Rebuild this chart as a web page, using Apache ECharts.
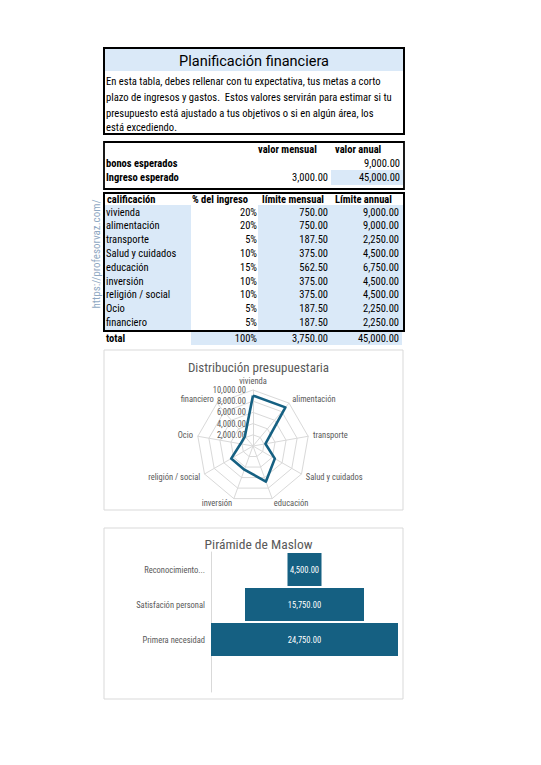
<!DOCTYPE html>
<html><head><meta charset="utf-8">
<script src="https://cdn.jsdelivr.net/npm/echarts@6/dist/echarts.min.js"></script>
<style>html,body{margin:0;padding:0;background:#fff}#c{width:541px;height:765px}</style>
</head><body><div id="c"></div>
<script>
// ---------- data ----------
const pageTitle = 'Planificación financiera';
const introLines = [
  'En esta tabla, debes rellenar con tu expectativa, tus metas a corto',
  'plazo de ingresos y gastos.  Estos valores servirán para estimar si tu',
  'presupuesto está ajustado a tus objetivos o si en algún área, los',
  'está excediendo.'
];
const incomeHeaders = ['valor mensual', 'valor anual'];
const incomeLabels = ['bonos esperados', 'Ingreso esperado'];
const incomeMonthly = [null, 3000];
const incomeAnnual = [9000, 45000];
const budgetHeaders = ['calificación', '% del ingreso', 'límite mensual', 'Límite annual'];
const categories = ['vivienda', 'alimentación', 'transporte', 'Salud y cuidados', 'educación', 'inversión', 'religión / social', 'Ocio', 'financiero'];
const percents = [20, 20, 5, 10, 15, 10, 10, 5, 5];
const monthlyLimits = [750, 750, 187.5, 375, 562.5, 375, 375, 187.5, 187.5];
const annualLimits = [9000, 9000, 2250, 4500, 6750, 4500, 4500, 2250, 2250];
const totalLabel = 'total';
const totalPercent = 100;
const totalMonthly = 3750;
const totalAnnual = 45000;
const watermark = 'https://profesorvaz.com/';
const radarTitle = 'Distribución presupuestaria';
const radarMax = 10000;
const maslowTitle = 'Pirámide de Maslow';
const maslowCategories = ['', 'Primera necesidad', 'Satisfación personal', 'Reconocimiento...'];
const maslowValues = [null, 24750, 15750, 4500];

// ---------- rendering ----------
const FONT = "'Liberation Sans Narrow','Arial Narrow','Roboto Condensed',sans-serif";
const BLUE_FILL = '#dae9f8';
const ACCENT = '#156082';
const GREY_TXT = '#595959';
const fmt2 = v => v == null ? '' : v.toLocaleString('en-US', {minimumFractionDigits: 2, maximumFractionDigits: 2});

const g = [];
function rect(x, y, w, h, style, z) {
  g.push({type: 'rect', silent: true, z: z || 0, shape: {x, y, width: w, height: h}, style});
}
function txt(s, x, y, o) {
  o = o || {};
  g.push({type: 'text', silent: true, z: 5, x, y, rotation: o.rotation || 0,
    style: {text: s, fill: o.color || '#000', fontSize: o.size || 10.5, fontFamily: o.font || FONT,
      fontWeight: o.bold ? 'bold' : 'normal', align: o.align || 'left', verticalAlign: 'middle'}});
}
const X0 = 104, X1 = 404;

// Title block
rect(X0, 48, X1 - X0, 23, {fill: BLUE_FILL});
rect(X0, 48, X1 - X0, 86, {fill: 'none', stroke: '#000', lineWidth: 2}, 6);
txt(pageTitle, (X0 + X1) / 2, 61, {size: 14.5, align: 'center', font: "Roboto, 'Noto Sans', sans-serif"});
const introY = [81.5, 97.3, 113, 127];
introLines.forEach((l, i) => txt(l, 106, introY[i], {size: 10.6}));

// Income table
const colB = [191, 258], colC = [258, 331], colD = [331, 404];
rect(colD[0], 170, colD[1] - colD[0] - 1, 15, {fill: BLUE_FILL});
rect(X0, 142, X1 - X0, 47, {fill: 'none', stroke: '#000', lineWidth: 1.8}, 6);
txt(incomeHeaders[0], 258, 149, {bold: true});
txt(incomeHeaders[1], 335, 149, {bold: true});
const incY = [163, 177];
incomeLabels.forEach((l, i) => {
  txt(l, 106, incY[i], {bold: true});
  txt(fmt2(incomeMonthly[i]), 328, incY[i], {align: 'right'});
  txt(fmt2(incomeAnnual[i]), 400, incY[i], {align: 'right'});
});

// Budget table
const rowY0 = 212, rowH = 13.8;
const bodyTop = 205, bodyBot = 331;
rect(X0, bodyTop, colB[0] - X0, bodyBot - bodyTop, {fill: BLUE_FILL});
rect(colC[0], bodyTop, colD[1] - colC[0], bodyBot - bodyTop, {fill: BLUE_FILL});
rect(colB[0], bodyBot, colD[1] - colB[0] - 2, 14, {fill: BLUE_FILL});
rect(X0, 193, X1 - X0, 138, {fill: 'none', stroke: '#000', lineWidth: 2}, 6);
txt(budgetHeaders[0], 107, 199, {bold: true});
txt(budgetHeaders[1], 192, 199, {bold: true});
txt(budgetHeaders[2], 262, 199, {bold: true});
txt(budgetHeaders[3], 335, 199, {bold: true});
categories.forEach((c, i) => {
  const y = rowY0 + i * rowH;
  txt(c, 106, y);
  txt(percents[i] + '%', 257, y, {align: 'right'});
  txt(fmt2(monthlyLimits[i]), 328, y, {align: 'right'});
  txt(fmt2(annualLimits[i]), 399, y, {align: 'right'});
});
txt(totalLabel, 106, 338, {bold: true});
txt(totalPercent + '%', 257, 338, {align: 'right'});
txt(fmt2(totalMonthly), 328, 338, {align: 'right'});
txt(fmt2(totalAnnual), 399, 338, {align: 'right'});
txt(watermark, 96, 254, {rotation: Math.PI / 2, align: 'center', color: '#8fa8c2', size: 11});

// chart frames
rect(X0, 350, 299, 160, {fill: '#fff', stroke: '#d9d9d9', lineWidth: 1});
rect(X0, 528, 299, 171, {fill: '#fff', stroke: '#d9d9d9', lineWidth: 1});

// radar: reference goes clockwise from top
const order = [0].concat(categories.map((_, i) => i).slice(1).reverse());
const radarLabelStyle = {show: true, color: GREY_TXT, fontSize: 8.5, fontFamily: FONT, margin: 7,
  formatter: v => v === 0 ? '' : fmt2(v)};
const indicators = order.map((k, j) => {
  const ind = {name: categories[k], min: 0, max: radarMax};
  if (j === 0) ind.axisLabel = radarLabelStyle;
  return ind;
});
const radarValues = order.map(k => annualLimits[k]);

const maxM = Math.max(...maslowValues.filter(v => v != null));
const offsets = maslowValues.map(v => v == null ? null : (maxM - v) / 2);

const chart = echarts.init(document.getElementById('c'), null, {renderer: 'svg'});
chart.setOption({
  animation: false,
  graphic: {elements: g},
  title: [
    {text: radarTitle, left: 253.5, top: 356, textAlign: 'center',
      textStyle: {color: GREY_TXT, fontSize: 13, fontWeight: 'normal', fontFamily: FONT}},
    {text: maslowTitle, left: 253.5, top: 532, textAlign: 'center',
      textStyle: {color: GREY_TXT, fontSize: 13.5, fontWeight: 'normal', fontFamily: FONT}}
  ],
  radar: {
    center: [253, 446], radius: 56, startAngle: 90, shape: 'polygon', splitNumber: 5,
    indicator: indicators,
    axisName: {color: GREY_TXT, fontSize: 8.5, fontFamily: FONT},
    nameGap: 5,
    splitLine: {lineStyle: {color: '#d9d9d9', width: 1}},
    splitArea: {show: false},
    axisLine: {lineStyle: {color: '#d9d9d9'}},
    axisTick: {show: false},
    axisLabel: {show: false, color: GREY_TXT}
  },
  grid: {left: 211, top: 552, width: 187, height: 140},
  xAxis: {type: 'value', min: 0, max: maxM, show: false},
  yAxis: {type: 'category', data: maslowCategories,
    axisLine: {lineStyle: {color: '#d9d9d9'}}, axisTick: {show: false},
    axisLabel: {color: GREY_TXT, fontSize: 8.5, fontFamily: FONT, margin: 6}},
  series: [
    {type: 'radar', data: [{value: radarValues}], symbol: 'none',
      lineStyle: {color: ACCENT, width: 2.6}, silent: true},
    {type: 'bar', stack: 'p', data: offsets, itemStyle: {color: 'transparent'}, barCategoryGap: '6%', silent: true},
    {type: 'bar', stack: 'p', data: maslowValues, itemStyle: {color: ACCENT}, barCategoryGap: '6%',
      label: {show: true, position: 'inside', color: '#fff', fontSize: 8.5, fontWeight: 'normal', fontFamily: FONT,
        formatter: p => fmt2(p.value)}}
  ]
});
</script></body></html>
